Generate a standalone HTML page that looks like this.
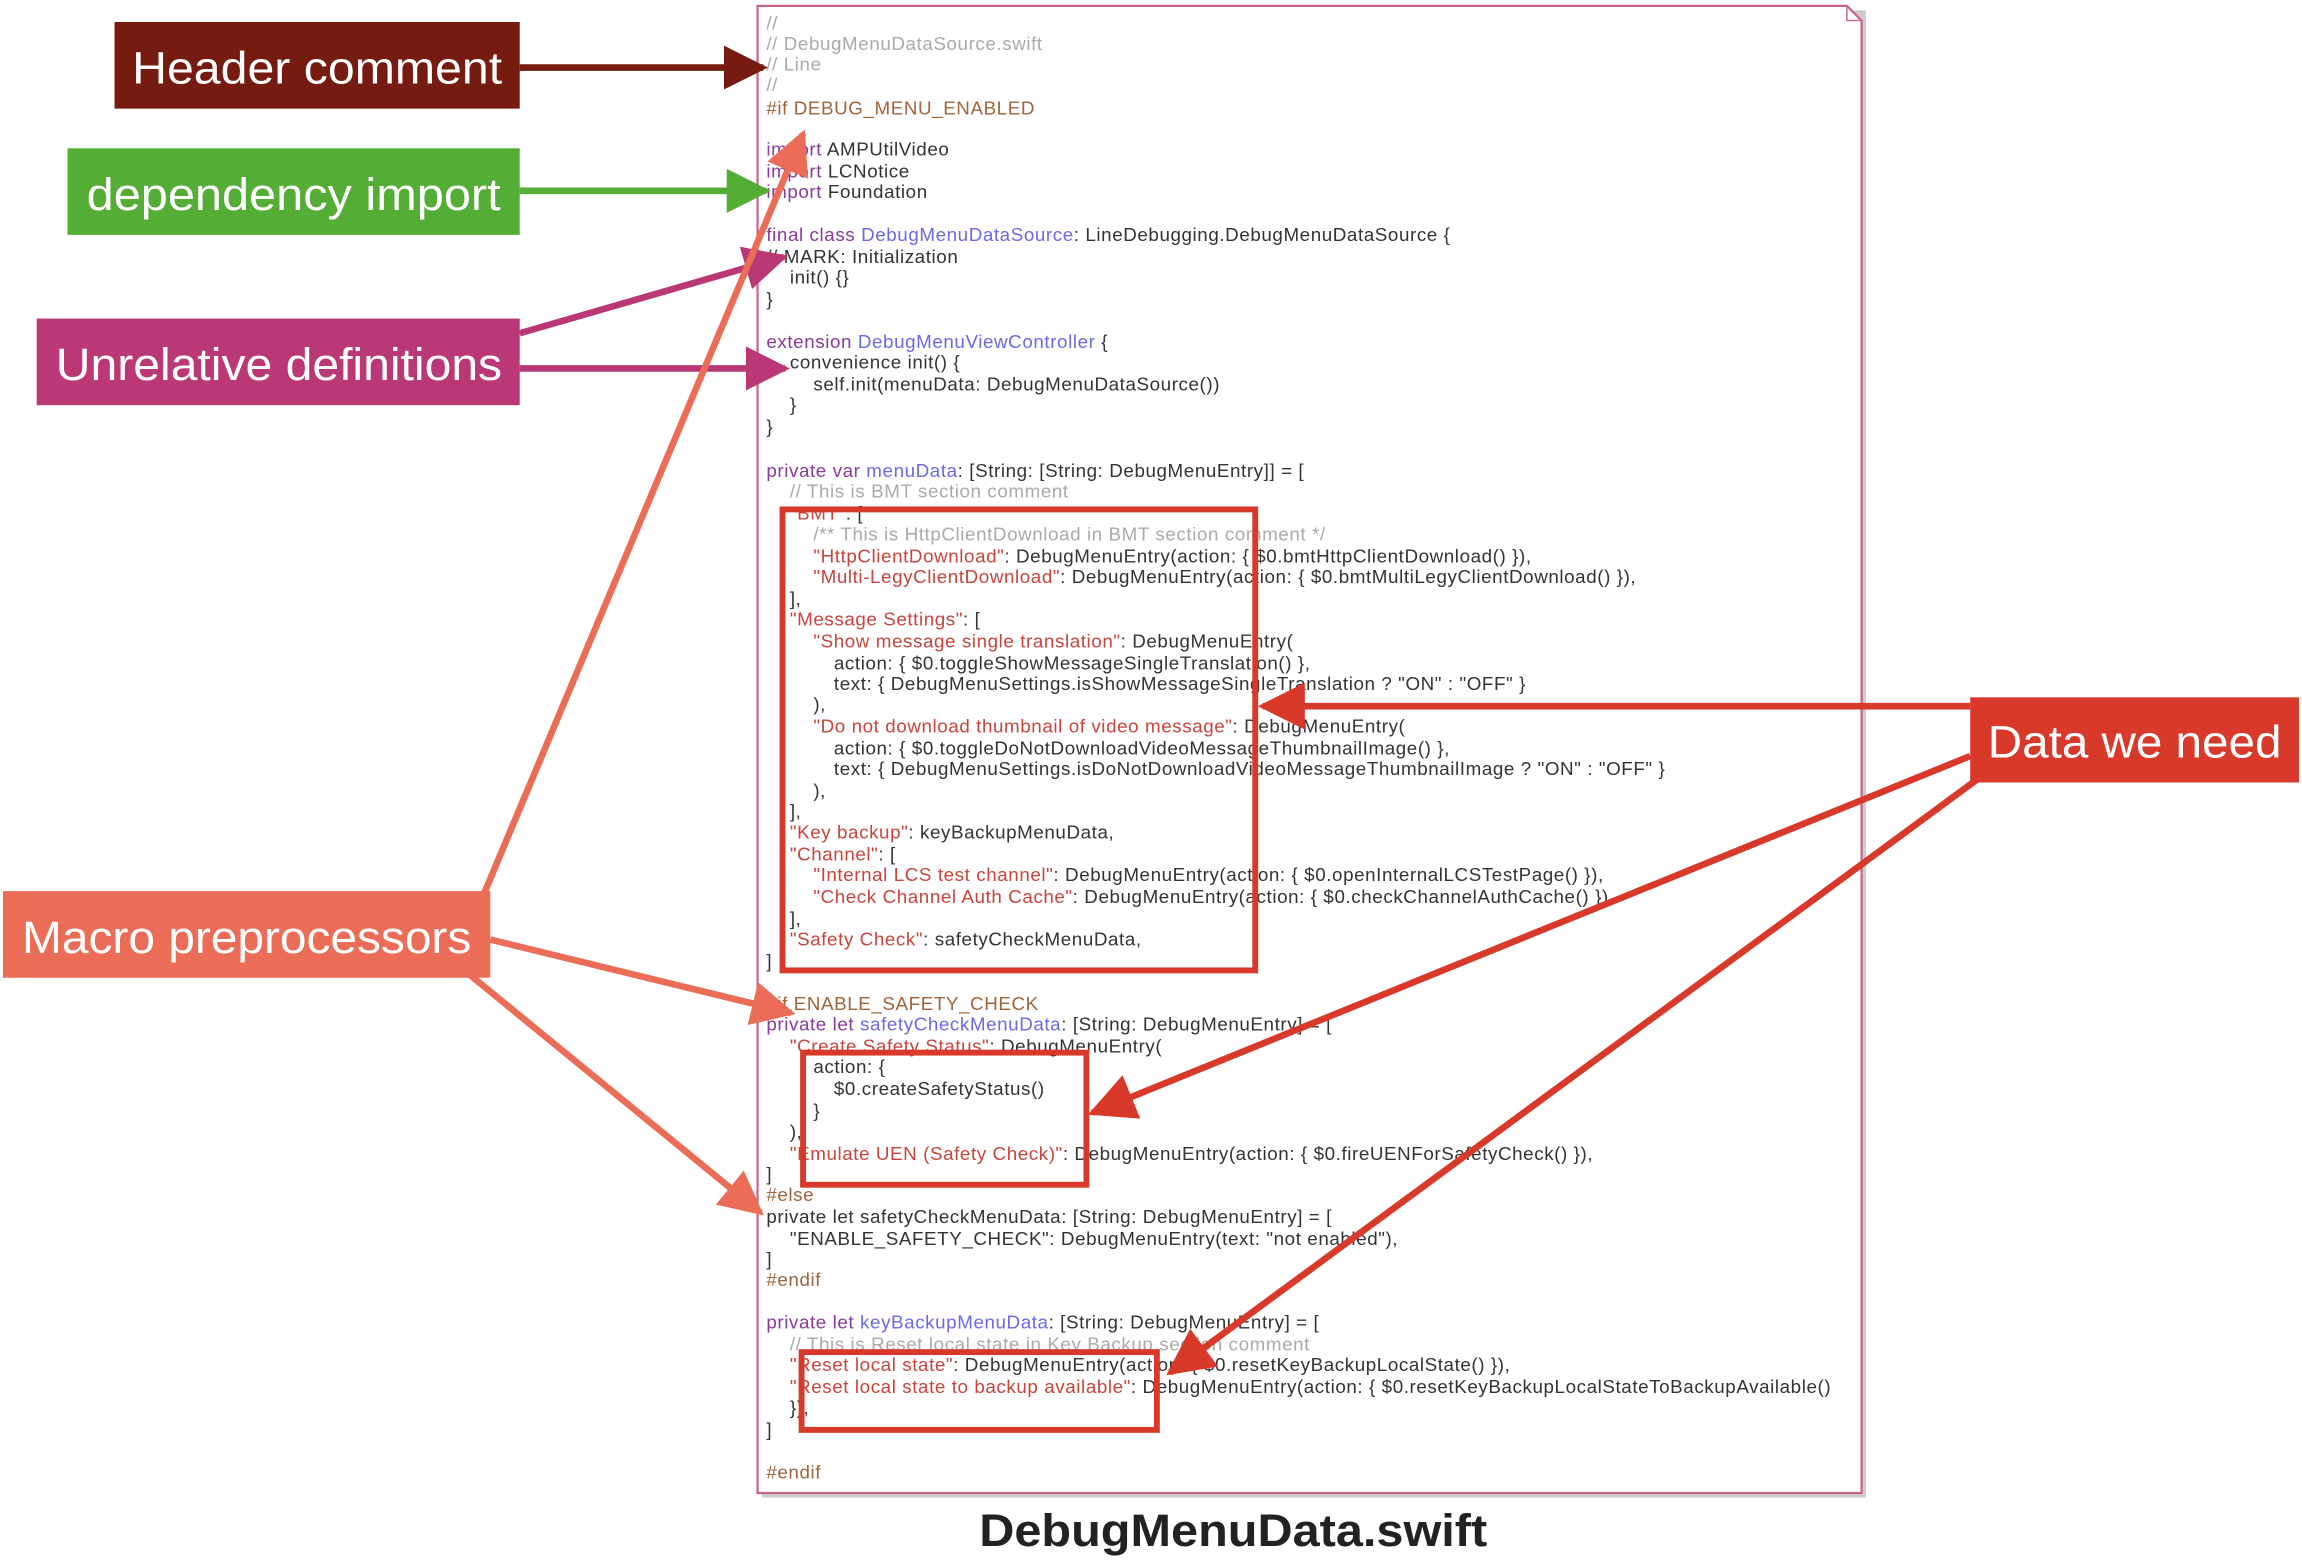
<!DOCTYPE html>
<html><head><meta charset="utf-8"><style>
html,body{margin:0;padding:0;background:#fff;}
svg{display:block;}
.c{font-family:"Liberation Sans",sans-serif;font-size:12.8px;letter-spacing:0.4px;fill:#333;}
.cm{fill:#aaa}.pp{fill:#a0643c}.kw{fill:#8a3a9a}.ty{fill:#6a6ae6}.st{fill:#c8443c}
.lab{font-family:"Liberation Sans",sans-serif;font-size:31px;fill:#fff;}
</style></head><body>
<svg width="2302" height="1566" viewBox="0 0 1568 1066.7" xmlns="http://www.w3.org/2000/svg">
<defs>
<marker id="mBr" viewBox="0 0 10 10" refX="9" refY="5" markerWidth="30" markerHeight="30" markerUnits="userSpaceOnUse" orient="auto"><path d="M0,0 L10,5 L0,10 z" fill="#761b10"/></marker>
<marker id="mGr" viewBox="0 0 10 10" refX="9" refY="5" markerWidth="30" markerHeight="30" markerUnits="userSpaceOnUse" orient="auto"><path d="M0,0 L10,5 L0,10 z" fill="#54ad34"/></marker>
<marker id="mPk" viewBox="0 0 10 10" refX="9" refY="5" markerWidth="30" markerHeight="30" markerUnits="userSpaceOnUse" orient="auto"><path d="M0,0 L10,5 L0,10 z" fill="#bb3877"/></marker>
<marker id="mOr" viewBox="0 0 10 10" refX="9" refY="5" markerWidth="30" markerHeight="30" markerUnits="userSpaceOnUse" orient="auto"><path d="M0,0 L10,5 L0,10 z" fill="#ec6d57"/></marker>
<marker id="mRd" viewBox="0 0 10 10" refX="9" refY="5" markerWidth="32" markerHeight="32" markerUnits="userSpaceOnUse" orient="auto"><path d="M0,0 L10,5 L0,10 z" fill="#d9392a"/></marker>
</defs>

<rect x="519" y="7" width="752" height="1013" fill="#ccc"/>
<path d="M516,4 L1258,4 L1268,14 L1268,1017 L516,1017 Z" fill="#fff" stroke="#c8648a" stroke-width="1.5"/>
<path d="M1258,4 L1258,14 L1268,14" fill="none" stroke="#c8648a" stroke-width="1"/>

<g class="c" xml:space="preserve">
<text x="522" y="20" class="cm">//</text>
<text x="522" y="34" class="cm">//  DebugMenuDataSource.swift</text>
<text x="522" y="48" class="cm">//  Line</text>
<text x="522" y="62" class="cm">//</text>
<text x="522" y="78" class="pp">#if DEBUG_MENU_ENABLED</text>
<text x="522" y="106"><tspan class="kw">import</tspan> AMPUtilVideo</text>
<text x="522" y="121"><tspan class="kw">import</tspan> LCNotice</text>
<text x="522" y="135"><tspan class="kw">import</tspan> Foundation</text>
<text x="522" y="164"><tspan class="kw">final class</tspan> <tspan class="ty">DebugMenuDataSource</tspan>: LineDebugging.DebugMenuDataSource {</text>
<text x="522" y="179">// MARK: Initialization</text>
<text x="538" y="193">init() {}</text>
<text x="522" y="208">}</text>
<text x="522" y="237"><tspan class="kw">extension</tspan> <tspan class="ty">DebugMenuViewController</tspan> {</text>
<text x="538" y="251">convenience init() {</text>
<text x="554" y="266">self.init(menuData: DebugMenuDataSource())</text>
<text x="538" y="280">}</text>
<text x="522" y="295">}</text>
<text x="522" y="325"><tspan class="kw">private var</tspan> <tspan class="ty">menuData</tspan>: [String: [String: DebugMenuEntry]] = [</text>
<text x="538" y="339" class="cm">// This is BMT section comment</text>
<text x="538" y="354"><tspan class="st">"BMT"</tspan>: [</text>
<text x="554" y="368" class="cm">/** This is HttpClientDownload in BMT section comment */</text>
<text x="554" y="383"><tspan class="st">"HttpClientDownload"</tspan>: DebugMenuEntry(action: { $0.bmtHttpClientDownload() }),</text>
<text x="554" y="397"><tspan class="st">"Multi-LegyClientDownload"</tspan>: DebugMenuEntry(action: { $0.bmtMultiLegyClientDownload() }),</text>
<text x="538" y="412">],</text>
<text x="538" y="426"><tspan class="st">"Message Settings"</tspan>: [</text>
<text x="554" y="441"><tspan class="st">"Show message single translation"</tspan>: DebugMenuEntry(</text>
<text x="568" y="456">action: { $0.toggleShowMessageSingleTranslation() },</text>
<text x="568" y="470">text: { DebugMenuSettings.isShowMessageSingleTranslation ? "ON" : "OFF" }</text>
<text x="554" y="484">),</text>
<text x="554" y="499"><tspan class="st">"Do not download thumbnail of video message"</tspan>: DebugMenuEntry(</text>
<text x="568" y="514">action: { $0.toggleDoNotDownloadVideoMessageThumbnailImage() },</text>
<text x="568" y="528">text: { DebugMenuSettings.isDoNotDownloadVideoMessageThumbnailImage ? "ON" : "OFF" }</text>
<text x="554" y="543">),</text>
<text x="538" y="557">],</text>
<text x="538" y="571"><tspan class="st">"Key backup"</tspan>: keyBackupMenuData,</text>
<text x="538" y="586"><tspan class="st">"Channel"</tspan>: [</text>
<text x="554" y="600"><tspan class="st">"Internal LCS test channel"</tspan>: DebugMenuEntry(action: { $0.openInternalLCSTestPage() }),</text>
<text x="554" y="615"><tspan class="st">"Check Channel Auth Cache"</tspan>: DebugMenuEntry(action: { $0.checkChannelAuthCache() }),</text>
<text x="538" y="630">],</text>
<text x="538" y="644"><tspan class="st">"Safety Check"</tspan>: safetyCheckMenuData,</text>
<text x="522" y="659">]</text>
<text x="522" y="688" class="pp">#if ENABLE_SAFETY_CHECK</text>
<text x="522" y="702"><tspan class="kw">private let</tspan> <tspan class="ty">safetyCheckMenuData</tspan>: [String: DebugMenuEntry] = [</text>
<text x="538" y="717"><tspan class="st">"Create Safety Status"</tspan>: DebugMenuEntry(</text>
<text x="554" y="731">action: {</text>
<text x="568" y="746">$0.createSafetyStatus()</text>
<text x="554" y="761">}</text>
<text x="538" y="775">),</text>
<text x="538" y="790"><tspan class="st">"Emulate UEN (Safety Check)"</tspan>: DebugMenuEntry(action: { $0.fireUENForSafetyCheck() }),</text>
<text x="522" y="804">]</text>
<text x="522" y="818" class="pp">#else</text>
<text x="522" y="833">private let safetyCheckMenuData: [String: DebugMenuEntry] = [</text>
<text x="538" y="848">"ENABLE_SAFETY_CHECK": DebugMenuEntry(text: "not enabled"),</text>
<text x="522" y="862">]</text>
<text x="522" y="876" class="pp">#endif</text>
<text x="522" y="905"><tspan class="kw">private let</tspan> <tspan class="ty">keyBackupMenuData</tspan>: [String: DebugMenuEntry] = [</text>
<text x="538" y="920" class="cm">// This is Reset local state in Key Backup section comment</text>
<text x="538" y="934"><tspan class="st">"Reset local state"</tspan>: DebugMenuEntry(action: { $0.resetKeyBackupLocalState() }),</text>
<text x="538" y="949"><tspan class="st">"Reset local state to backup available"</tspan>: DebugMenuEntry(action: { $0.resetKeyBackupLocalStateToBackupAvailable()</text>
<text x="538" y="963">}),</text>
<text x="522" y="978">]</text>
<text x="522" y="1007" class="pp">#endif</text>
</g>

<g fill="none" stroke="#d9392a" stroke-width="4">
<rect x="533" y="347" width="322" height="314"/>
<rect x="547" y="717" width="193" height="90"/>
<rect x="546" y="921" width="242" height="53"/>
</g>

<rect x="78" y="15" width="276" height="59" fill="#761b10"/>
<text x="216" y="57" class="lab" text-anchor="middle" textLength="252" lengthAdjust="spacingAndGlyphs">Header comment</text>
<rect x="46" y="101" width="308" height="59" fill="#54ad34"/>
<text x="200" y="143" class="lab" text-anchor="middle" textLength="282" lengthAdjust="spacingAndGlyphs">dependency import</text>
<rect x="25" y="217" width="329" height="59" fill="#bb3877"/>
<text x="190" y="259" class="lab" text-anchor="middle" textLength="304" lengthAdjust="spacingAndGlyphs">Unrelative definitions</text>
<rect x="2" y="607" width="332" height="59" fill="#ec6d57"/>
<text x="168" y="649" class="lab" text-anchor="middle" textLength="306" lengthAdjust="spacingAndGlyphs">Macro preprocessors</text>
<rect x="1342" y="475" width="224" height="58" fill="#d9392a"/>
<text x="1454" y="516" class="lab" text-anchor="middle" textLength="200" lengthAdjust="spacingAndGlyphs">Data we need</text>

<g stroke-width="4.5" fill="none">
<line x1="354" y1="46" x2="520" y2="46" stroke="#761b10" marker-end="url(#mBr)"/>
<line x1="354" y1="130" x2="522" y2="130" stroke="#54ad34" marker-end="url(#mGr)"/>
<line x1="354" y1="227" x2="534" y2="175" stroke="#bb3877" marker-end="url(#mPk)"/>
<line x1="354" y1="251" x2="535" y2="251" stroke="#bb3877" marker-end="url(#mPk)"/>
<line x1="330" y1="608" x2="547" y2="91" stroke="#ec6d57" marker-end="url(#mOr)"/>
<line x1="334" y1="640" x2="539" y2="690" stroke="#ec6d57" marker-end="url(#mOr)"/>
<line x1="320" y1="664" x2="518" y2="826" stroke="#ec6d57" marker-end="url(#mOr)"/>
<line x1="1342" y1="481" x2="860" y2="481" stroke="#d9392a" marker-end="url(#mRd)"/>
<line x1="1342" y1="515" x2="744" y2="758" stroke="#d9392a" marker-end="url(#mRd)"/>
<line x1="1348" y1="530" x2="797" y2="935" stroke="#d9392a" marker-end="url(#mRd)"/>
</g>

<text x="840" y="1053" text-anchor="middle" font-family="'Liberation Sans',sans-serif" font-weight="bold" font-size="31" fill="#222" textLength="346" lengthAdjust="spacingAndGlyphs">DebugMenuData.swift</text>
</svg>
</body></html>
